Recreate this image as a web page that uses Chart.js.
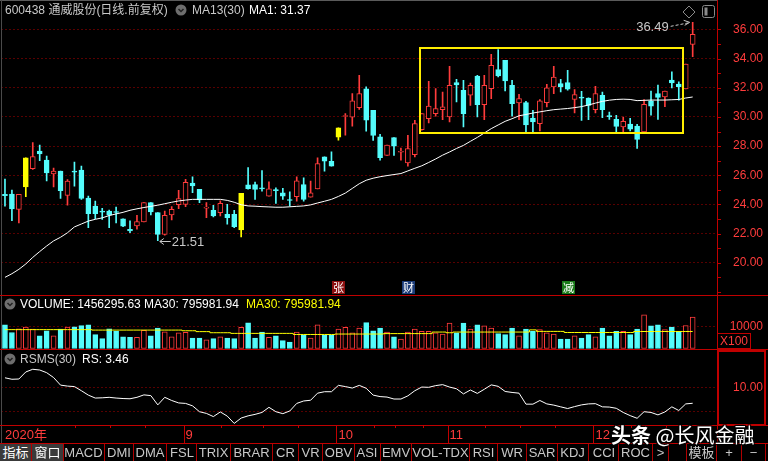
<!DOCTYPE html>
<html>
<head>
<meta charset="utf-8">
<title>600438 通威股份</title>
<script src="https://cdn.jsdelivr.net/npm/chart.js@4.4.1/dist/chart.umd.min.js"></script>
<style>
  html, body { margin: 0; padding: 0; background: #000; }
  #wrap { position: relative; width: 768px; height: 461px; overflow: hidden; background: #000;
          font-family: "Liberation Sans", "Noto Sans CJK SC", sans-serif; font-size: 12px; }
  #wrap canvas { position: absolute; left: 0; }
  .ln { position: absolute; background: #c00000; }
  .tx { position: absolute; height: 14px; line-height: 14px; white-space: nowrap; color: #c8c8c8; }
  .w { color: #fff; }
  .y { color: #ffff00; }
  .ic { position: absolute; }
  .btn { position: absolute; top: 444px; height: 17px; line-height: 17px; text-align: center; color: #c8c8c8;
         font-size: 13px; border-right: 1px solid #b00000; box-sizing: border-box; white-space: nowrap; overflow: hidden; }
  .btn.on { background: #3a3a3a; color: #fff; }
  #unit { position: absolute; left: 717px; top: 333px; width: 34px; height: 16px; box-sizing: border-box;
          border: 1px solid #c00000; color: #ff3c3c; font-size: 12px; line-height: 14px; text-align: center; }
  #rsbox { position: absolute; left: 717px; top: 350px; width: 49px; height: 76px; box-sizing: border-box; border: 2px solid #c00000; }
  #mark { position: absolute; left: 611px; top: 424px; color: #fff; font-family: "Noto Sans CJK SC", sans-serif;
          font-size: 20px; line-height: 22px; white-space: nowrap;
          text-shadow: 1px 1px 1px #000, -1px -1px 1px #000, 1px -1px 1px #000, -1px 1px 1px #000; }
</style>
</head>
<body>
<div id="wrap">
  <canvas id="kline" width="768" height="295" style="top:0"></canvas>
  <canvas id="vol" width="768" height="54" style="top:295px"></canvas>
  <canvas id="rsms" width="768" height="93" style="top:350px"></canvas>

  <div class="ln" style="left:0;top:0;width:717px;height:1px;background:#5a5a5a"></div>
  <div class="ln" style="left:1px;top:0;width:1px;height:443px;background:#4a4a4a"></div>
  <div class="ln" style="left:717px;top:0;width:1px;height:443px"></div>
  <div class="ln" style="left:0;top:295px;width:768px;height:1px"></div>
  <div class="ln" style="left:0;top:349px;width:768px;height:1px"></div>
  <div class="ln" style="left:0;top:425px;width:768px;height:1px"></div>
  <div class="ln" style="left:0;top:443px;width:768px;height:1px"></div>
  <div id="unit">X100</div>
  <div id="rsbox"></div>

  <div class="tx" style="left:5px;top:3px">600438 通威股份(日线.前复权)</div>
  <svg class="ic" style="left:175px;top:4px" width="12" height="12"><circle cx="6" cy="6" r="5.5" fill="#6e6e6e"/><polyline points="3.5,5 6,7.5 8.5,5" fill="none" stroke="#222" stroke-width="1.5"/></svg>
  <div class="tx" style="left:192px;top:3px">MA13(30)</div>
  <div class="tx w" id="maText" style="left:249px;top:3px"></div>
  <svg class="ic" style="left:682px;top:5px" width="14" height="14"><polygon points="7,1 13,7 7,13 1,7" fill="none" stroke="#8a8a8a" stroke-width="1"/></svg>
  <svg class="ic" style="left:702px;top:5px" width="13" height="13"><rect x="0.5" y="0.5" width="12" height="12" rx="2" fill="none" stroke="#8a8a8a"/><rect x="2.5" y="2.5" width="3" height="8" fill="#8a8a8a"/></svg>

  <svg class="ic" style="left:4px;top:298px" width="12" height="12"><circle cx="6" cy="6" r="5.5" fill="#6e6e6e"/><polyline points="3.5,5 6,7.5 8.5,5" fill="none" stroke="#222" stroke-width="1.5"/></svg>
  <div class="tx w" id="volText" style="left:20px;top:297px"></div>
  <div class="tx y" id="volMaText" style="left:246px;top:297px"></div>

  <svg class="ic" style="left:4px;top:353px" width="12" height="12"><circle cx="6" cy="6" r="5.5" fill="#6e6e6e"/><polyline points="3.5,5 6,7.5 8.5,5" fill="none" stroke="#222" stroke-width="1.5"/></svg>
  <div class="tx" style="left:20px;top:352px">RSMS(30)</div>
  <div class="tx w" id="rsText" style="left:82px;top:352px"></div>

  <div id="toolbar"></div>
  <div id="mark"><b>头条</b> @长风金融</div>
</div>

<script>
// ---- data (daily bars, 2020-07-27 .. 2020-12-21) ----
const OPEN = [
  24.70, 24.71, 23.66, 25.21, 26.45, 27.66, 27.04, 26.10, 26.29, 24.62,
  26.28, 26.35, 24.43, 23.89, 23.53, 23.54, 23.50, 23.02, 22.30, 22.53,
  22.80, 24.13, 23.44, 21.95, 23.28, 23.99, 24.01, 25.47, 25.04, 23.75,
  23.60, 23.44, 23.33, 23.33, 22.25, 25.34, 25.37, 25.12, 24.57, 25.02,
  24.80, 24.32, 24.53, 25.37, 24.50, 25.07, 27.27, 26.95, 28.62, 30.03,
  29.99, 30.63, 31.93, 30.45, 28.63, 27.37, 28.58, 27.58, 26.85, 27.42,
  29.13, 29.89, 30.23, 30.50, 30.00, 32.35, 31.83, 31.49, 32.81, 30.85,
  31.94, 33.25, 33.89, 32.17, 30.96, 30.98, 29.93, 29.54, 30.98, 32.06,
  32.29, 32.35, 31.21, 31.34, 31.30, 30.50, 31.49, 30.06, 29.84, 29.31,
  29.51, 29.37, 28.98, 31.11, 31.61, 31.38, 32.53, 32.25, 31.93, 34.97
];
const HIGH = [
  25.74, 24.98, 24.69, 27.20, 28.25, 28.07, 27.31, 26.49, 26.29, 25.71,
  26.90, 26.63, 24.57, 24.23, 23.73, 23.61, 23.82, 23.02, 22.87, 23.26,
  24.13, 24.13, 23.44, 23.55, 23.85, 24.97, 25.73, 25.89, 25.04, 24.13,
  23.94, 24.24, 24.01, 23.60, 24.77, 26.53, 25.53, 26.33, 25.55, 25.14,
  25.10, 24.87, 25.90, 25.83, 25.60, 27.20, 27.27, 27.61, 29.26, 30.24,
  31.61, 32.85, 32.07, 30.45, 28.81, 28.08, 28.58, 27.87, 28.74, 29.77,
  30.23, 32.45, 31.94, 31.71, 33.47, 32.58, 32.51, 32.33, 32.86, 32.86,
  34.30, 34.62, 33.89, 32.51, 31.55, 31.07, 30.46, 31.19, 32.24, 33.47,
  32.58, 33.20, 31.87, 31.76, 31.32, 32.10, 31.71, 30.34, 30.11, 30.00,
  29.90, 29.49, 31.20, 31.77, 32.18, 31.77, 33.10, 32.41, 33.62, 36.49
];
const LOW = [
  23.89, 22.88, 22.74, 24.53, 26.40, 27.00, 25.62, 25.21, 24.41, 23.95,
  25.26, 24.34, 22.40, 23.02, 22.97, 22.40, 22.74, 22.47, 22.07, 22.30,
  22.80, 23.28, 21.51, 21.89, 22.94, 23.71, 23.85, 24.81, 24.13, 23.10,
  23.14, 23.21, 22.64, 22.41, 21.77, 25.04, 24.34, 24.91, 24.57, 24.07,
  24.34, 23.89, 24.23, 24.23, 24.50, 25.07, 26.29, 26.63, 28.41, 28.75,
  29.37, 30.51, 29.03, 28.39, 27.03, 27.37, 27.37, 27.03, 26.62, 27.26,
  29.09, 29.59, 30.05, 29.82, 29.66, 31.03, 29.31, 30.80, 30.00, 29.82,
  31.26, 32.74, 31.78, 30.05, 29.82, 28.90, 28.97, 29.04, 30.69, 31.60,
  31.71, 31.83, 30.27, 29.77, 29.82, 30.27, 29.95, 29.84, 28.97, 28.97,
  29.05, 27.84, 28.91, 30.13, 29.83, 30.70, 32.00, 31.15, 31.93, 34.13
];
const CLOSE = [
  24.60, 23.70, 24.69, 27.20, 27.29, 27.47, 26.17, 26.29, 24.94, 25.60,
  26.22, 24.41, 23.36, 23.36, 23.47, 23.27, 23.45, 22.51, 22.18, 22.82,
  24.13, 23.49, 21.95, 23.26, 23.67, 24.40, 25.52, 25.27, 24.31, 23.80,
  23.21, 24.08, 23.10, 22.48, 24.77, 25.09, 25.03, 25.07, 25.07, 24.95,
  24.57, 24.27, 25.62, 24.34, 24.80, 26.81, 26.97, 26.63, 29.26, 30.09,
  31.11, 31.61, 29.78, 28.73, 27.21, 28.08, 27.99, 27.62, 27.83, 29.54,
  30.23, 30.75, 30.57, 30.69, 32.17, 32.19, 30.23, 32.17, 30.85, 32.17,
  33.54, 32.81, 32.47, 30.91, 31.26, 29.45, 29.66, 31.10, 31.99, 32.74,
  32.06, 31.90, 31.53, 31.29, 30.80, 31.60, 30.50, 30.02, 29.36, 29.70,
  29.17, 28.46, 30.86, 30.74, 31.34, 31.77, 32.34, 32.07, 33.62, 35.66
];
const LIMIT_UP_DAYS = [3, 34, 48];
const MA30 = [
  19.00, 19.25, 19.55, 19.92, 20.37, 20.77, 21.15, 21.50, 21.75, 22.06,
  22.46, 22.66, 22.86, 22.98, 23.08, 23.24, 23.35, 23.46, 23.60, 23.70,
  23.79, 23.87, 23.95, 24.05, 24.15, 24.24, 24.30, 24.35, 24.35, 24.35,
  24.35, 24.35, 24.28, 24.15, 23.98, 23.90, 23.88, 23.85, 23.83, 23.81,
  23.81, 23.84, 23.87, 23.90, 23.97, 24.10, 24.22, 24.35, 24.55, 24.78,
  25.10, 25.42, 25.66, 25.80, 25.90, 25.98, 26.05, 26.12, 26.30, 26.48,
  26.65, 26.88, 27.12, 27.38, 27.60, 27.84, 28.05, 28.33, 28.60, 28.90,
  29.20, 29.45, 29.70, 29.88, 30.08, 30.17, 30.27, 30.35, 30.43, 30.50,
  30.54, 30.58, 30.64, 30.71, 30.82, 30.95, 31.07, 31.15, 31.20, 31.22,
  31.20, 31.12, 31.14, 31.16, 31.16, 31.16, 31.18, 31.20, 31.30, 31.37
];
const VOLUME = [
  1100000,  750000,  920000, 1000000,  910000,  600000,  830000,  600000,  910000, 1000000,
  1010000, 1060000, 1100000,  650000,  470000,  920000,  800000,  550000,  530000,  530000,
   850000,  600000,  950000,  780000,  550000,  730000,  760000,  500000,  500000,  420000,
   470000,  550000,  500000,  470000,  990000, 1190000,  500000,  770000,  530000,  600000,
   380000,  320000,  770000,  620000,  500000, 1100000,  620000,  620000,  910000,  980000,
   730000,  950000, 1200000,  830000,  950000,  770000,  550000,  450000,  770000,  910000,
   800000,  800000,  730000,  680000, 1180000,  730000, 1180000,  910000, 1100000, 1050000,
   950000,  700000,  650000,  950000,  600000,  910000,  800000,  880000,  730000,  680000,
   450000,  450000,  600000,  500000,  650000,  550000,  950000,  600000,  800000,  800000,
   650000,  910000, 1550000, 1050000, 1100000,  880000, 1000000,  800000, 1070000, 1456295.63
];
const VOL_MA30 = [
  880000, 880000, 880000, 880000, 880000, 880000, 880000, 880000, 880000, 880000,
  880000, 880000, 880000, 860000, 860000, 860000, 860000, 860000, 860000, 860000,
  860000, 860000, 860000, 860000, 860000, 860000, 830000, 830000, 790000, 790000,
  740000, 740000, 740000, 710000, 710000, 710000, 710000, 710000, 710000, 710000,
  710000, 710000, 660000, 660000, 660000, 660000, 660000, 660000, 680000, 680000,
  680000, 680000, 680000, 680000, 680000, 700000, 700000, 700000, 700000, 700000,
  700000, 700000, 770000, 770000, 740000, 770000, 770000, 770000, 770000, 770000,
  770000, 770000, 770000, 770000, 770000, 770000, 870000, 800000, 800000, 800000,
  800000, 750000, 750000, 750000, 750000, 750000, 750000, 750000, 750000, 750000,
  750000, 795981.94, 795981.94, 795981.94, 795981.94, 795981.94, 795981.94, 795981.94, 795981.94, 795981.94
];
const RSMS = [
  13.9, 13.3, 13.4, 16.3, 17.4, 17.1, 16.0, 14.0, 10.9, 10.5,
  10.3,  8.6,  6.8,  5.6,  5.7,  5.9,  5.6,  5.4,  5.3,  5.9,
   6.9,  6.6,  2.8,  5.9,  4.6,  3.6,  3.4,  2.4,  0.0, -0.7,
  -2.0, -0.1, -1.8, -4.8, -2.6, -1.7, -1.1, -0.3,  1.8,  0.0,
  -0.8,  0.3,  3.4,  4.4,  4.7,  7.6,  8.2,  8.2, 10.8, 10.3,
   9.7, 10.8,  9.6,  6.8,  6.2,  6.0,  5.2,  5.2,  6.5,  8.6,
  10.1, 10.0, 10.7, 11.1, 10.1,  9.4,  7.3,  8.9,  7.5,  9.2,
  11.0, 10.4,  8.3,  7.9,  7.6,  3.1,  3.1,  4.6,  3.2,  2.7,
   2.0,  1.3,  2.1,  2.8,  3.2,  3.3,  2.0,  1.9,  1.4, -0.3,
  -1.6, -2.7,  0.0, -0.3, -1.3, -0.1,  2.0,  0.5,  3.2,  3.46
];
const PRICE_TICKS = [18, 19, 20, 21, 22, 23, 24, 25, 26, 27, 28, 29, 30, 31, 32, 33, 34, 35, 36];
const PRICE_LABELED = [20, 22, 24, 26, 28, 30, 32, 34, 36];
const VOL_TICKS = [0, 1000000, 2400000];
const RS_TICKS = [-5, 0, 10, 25];
const MONTH_START = [0, 26, 48, 64, 85];
const MONTH_TEXT = ['2020年', '9', '10', '11', '12'];
const WEEK_TICKS = [10, 15, 20, 31, 37, 42, 53, 56, 60, 69, 74, 79, 90, 95];
const EVENT_DAYS = [48, 58, 81];
const EVENT_TEXT = ['张', '财', '减'];
const BOX_X = [59.8, 97.65];
const BOX_Y = [28.92, 34.71];
const SLOTS = 103;

// ---- styles ----
const CYAN = '#54fcfc', RED = '#ff3c3c', YELLOW = '#ffff00';
const GRID = '#b00000', AXIS = '#c00000', AXIS_TXT = '#ff3c3c';
const EVENT_BG = ['#8c1010', '#1c3c78', '#1a7a1a'];
const FONT = '"Liberation Sans", "Noto Sans CJK SC", sans-serif';
Chart.defaults.font.family = FONT;
Chart.defaults.font.size = 12;

const LABELS = OPEN.map((_, i) => i).concat([100, 101, 102]).slice(0, SLOTS);
const isUp = i => CLOSE[i] >= OPEN[i];
const isLimit = i => LIMIT_UP_DAYS.includes(i);
const lineColor = OPEN.map((_, i) => isLimit(i) ? YELLOW : isUp(i) ? RED : CYAN);
const fillColor = OPEN.map((_, i) => isLimit(i) ? YELLOW : isUp(i) ? '#000' : CYAN);

document.getElementById('maText').textContent = 'MA1: ' + MA30[MA30.length - 1].toFixed(2);
document.getElementById('volText').textContent = 'VOLUME: ' + VOLUME[VOLUME.length - 1].toFixed(2) +
  '  MA30: ' + VOL_MA30[VOL_MA30.length - 1].toFixed(2);
document.getElementById('volMaText').textContent = 'MA30: ' + VOL_MA30[VOL_MA30.length - 1].toFixed(2);
document.getElementById('rsText').textContent = 'RS: ' + RSMS[RSMS.length - 1].toFixed(2);

function xAxis() {
  return { display: false, offset: true, grid: { display: false } };
}
function yAxis(min, max, ticks, tickLen, label, gridOn) {
  return {
    position: 'right', min: min, max: max,
    // fixed axis width, and no label overhang eating into the panel
    afterFit: s => { s.width = 46; s.paddingTop = 0; s.paddingBottom = 0; },
    afterBuildTicks: s => { s.ticks = ticks.map(v => ({ value: v })); },
    ticks: { color: AXIS_TXT, font: { size: 12 }, crossAlign: 'far', padding: 0, autoSkip: false, callback: label },
    grid: {
      color: c => (c.tick && gridOn(c.tick.value)) ? GRID : 'transparent',
      tickColor: 'transparent', tickLength: tickLen
    },
    border: { display: false, dash: [1, 3] }
  };
}
const baseOptions = {
  responsive: false, animation: false,
  plugins: { legend: { display: false }, tooltip: { enabled: false } }
};

// ---- price extras: box, hi/lo tags, event marks, axis ticks ----
const priceExtras = {
  id: 'priceExtras',
  afterDatasetsDraw(chart) {
    const { ctx, chartArea, scales: { x, y } } = chart;
    ctx.save();
    const bx0 = Math.round(x.getPixelForValue(BOX_X[0])), bx1 = Math.round(x.getPixelForValue(BOX_X[1]));
    const by0 = Math.round(y.getPixelForValue(BOX_Y[1])), by1 = Math.round(y.getPixelForValue(BOX_Y[0]));
    ctx.strokeStyle = '#ffee00';
    ctx.lineWidth = 2;
    ctx.strokeRect(bx0, by0, bx1 - bx0, by1 - by0);

    ctx.font = '13px ' + FONT;
    ctx.fillStyle = '#c8c8c8';
    ctx.strokeStyle = '#c8c8c8';
    ctx.lineWidth = 1;
    ctx.textBaseline = 'middle';
    const hi = HIGH.indexOf(Math.max(...HIGH));
    const hx = x.getPixelForValue(hi), hy = y.getPixelForValue(HIGH[hi]);
    ctx.textAlign = 'right';
    ctx.fillText(HIGH[hi].toFixed(2), hx - 24, hy + 5);
    ctx.setLineDash([3, 2]);
    ctx.beginPath(); ctx.moveTo(hx - 22, hy + 4); ctx.lineTo(hx - 4, hy + 0.5); ctx.stroke();
    ctx.setLineDash([]);
    ctx.beginPath(); ctx.moveTo(hx - 9, hy - 2); ctx.lineTo(hx - 3, hy); ctx.lineTo(hx - 8, hy + 3); ctx.stroke();

    const lo = LOW.indexOf(Math.min(...LOW));
    const lx = x.getPixelForValue(lo), ly = Math.round(y.getPixelForValue(LOW[lo])) + 0.5;
    ctx.beginPath();
    ctx.moveTo(lx + 2, ly); ctx.lineTo(lx + 13, ly);
    ctx.moveTo(lx + 6, ly - 3); ctx.lineTo(lx + 2, ly); ctx.lineTo(lx + 6, ly + 3);
    ctx.stroke();
    ctx.textAlign = 'left';
    ctx.fillText(LOW[lo].toFixed(2), lx + 14, ly + 1);

    ctx.font = '11px "Noto Sans CJK SC", sans-serif';
    ctx.textAlign = 'center';
    EVENT_DAYS.forEach((d, k) => {
      const ex = Math.round(x.getPixelForValue(d));
      ctx.fillStyle = EVENT_BG[k];
      ctx.fillRect(ex - 6, chartArea.bottom - 14, 13, 13);
      ctx.fillStyle = '#fff';
      ctx.fillText(EVENT_TEXT[k], ex + 0.5, chartArea.bottom - 7.5);
    });

    ctx.strokeStyle = AXIS;
    ctx.beginPath();
    y.ticks.forEach(t => {
      const py = Math.round(y.getPixelForValue(t.value)) + 0.5;
      ctx.moveTo(chartArea.right, py); ctx.lineTo(chartArea.right + 4, py);
    });
    ctx.stroke();
    ctx.restore();
  }
};

new Chart(document.getElementById('kline'), {
  type: 'bar',
  data: {
    labels: LABELS,
    datasets: [
      { type: 'line', data: MA30, borderColor: '#ffffff', borderWidth: 1, pointRadius: 0, order: 0 },
      { data: OPEN.map((o, i) => [o, CLOSE[i]]), backgroundColor: fillColor, borderColor: lineColor,
        borderWidth: 1, borderSkipped: false, barThickness: 5, minBarLength: 1, grouped: false, order: 1 },
      { data: LOW.map((l, i) => [l, HIGH[i]]), backgroundColor: lineColor,
        barThickness: 1, grouped: false, order: 2 }
    ]
  },
  options: Object.assign({}, baseOptions, {
    layout: { padding: { left: 1.5, right: 5, top: 20, bottom: 0 } },
    scales: {
      x: xAxis(),
      y: yAxis(17.79, 36.65, PRICE_TICKS, 16,
        v => PRICE_LABELED.includes(v) ? v.toFixed(2) : '',
        v => PRICE_LABELED.includes(v))
    }
  }),
  plugins: [priceExtras]
});

// ---- volume ----
new Chart(document.getElementById('vol'), {
  type: 'bar',
  data: {
    labels: LABELS,
    datasets: [
      { type: 'line', data: VOL_MA30, borderColor: '#ffff00', borderWidth: 1, pointRadius: 0, stepped: 'middle', order: 0 },
      { data: VOLUME, backgroundColor: OPEN.map((_, i) => isUp(i) ? '#000' : CYAN),
        borderColor: OPEN.map((_, i) => isUp(i) ? RED : CYAN),
        borderWidth: 1, borderSkipped: false, barThickness: 5, grouped: false, order: 1 }
    ]
  },
  options: Object.assign({}, baseOptions, {
    layout: { padding: { left: 1.5, right: 5, top: 0, bottom: 0 } },
    scales: {
      x: xAxis(),
      y: yAxis(0, 2454545, VOL_TICKS, 12,
        v => v === 1000000 ? (v / 100).toFixed(0) : '',
        v => v === 1000000)
    }
  })
});

// ---- RSMS + date row ----
const dateRow = {
  id: 'dateRow',
  afterDraw(chart) {
    const { ctx, chartArea, scales: { x } } = chart;
    ctx.save();
    ctx.strokeStyle = AXIS;
    ctx.lineWidth = 1;
    ctx.beginPath();
    MONTH_START.slice(1).forEach(d => {
      const px = Math.round(x.getPixelForValue(d)) - 1.5;
      ctx.moveTo(px, chartArea.bottom); ctx.lineTo(px, chartArea.bottom + 18);
    });
    WEEK_TICKS.forEach(d => {
      const px = Math.round(x.getPixelForValue(d)) + 1.5;
      ctx.moveTo(px, chartArea.bottom); ctx.lineTo(px, chartArea.bottom + 3);
    });
    ctx.stroke();
    ctx.restore();
  }
};

new Chart(document.getElementById('rsms'), {
  type: 'line',
  data: {
    labels: LABELS,
    datasets: [
      { data: RSMS, borderColor: '#ffffff', borderWidth: 1, pointRadius: 0 }
    ]
  },
  options: Object.assign({}, baseOptions, {
    layout: { padding: { left: 1.5, right: 5, top: 0, bottom: 0 } },
    scales: {
      x: {
        offset: true,
        afterFit: s => { s.height = 18; },
        grid: { display: false, drawTicks: false },
        border: { display: false },
        ticks: {
          autoSkip: false, maxRotation: 0, minRotation: 0, align: 'start', padding: 3,
          color: AXIS_TXT, font: { size: 13 },
          callback: (v, i) => { const k = MONTH_START.indexOf(i); return k >= 0 ? MONTH_TEXT[k] : ''; }
        }
      },
      y: yAxis(-5.45, 25.3, RS_TICKS, 16,
        v => v === 10 ? v.toFixed(2) : '',
        v => v === 0 || v === 10)
    }
  }),
  plugins: [dateRow]
});

// ---- bottom toolbar ----
const TB_EDGES = [0, 31.7, 63.3, 105, 134.3, 167.7, 196.7, 231, 273.3, 299, 322.7, 354.3, 381, 412.3, 470,
  498, 526.7, 557.3, 589.7, 619, 653.3, 669, 687.3, 717.3, 742.3, 766.7];
const TB_TEXT = ['指标', '窗口', 'MACD', 'DMI', 'DMA', 'FSL', 'TRIX', 'BRAR', 'CR', 'VR', 'OBV', 'ASI', 'EMV',
  'VOL-TDX', 'RSI', 'WR', 'SAR', 'KDJ', 'CCI', 'ROC', '>', '', '模板', '+', '−'];
const tb = document.getElementById('toolbar');
TB_TEXT.forEach((t, i) => {
  const b = document.createElement('div');
  b.className = 'btn' + (i < 2 ? ' on' : '');
  b.style.left = Math.round(TB_EDGES[i]) + 'px';
  b.style.width = Math.round(TB_EDGES[i + 1] - TB_EDGES[i]) + 'px';
  b.textContent = t;
  tb.appendChild(b);
});
</script>
</body>
</html>
